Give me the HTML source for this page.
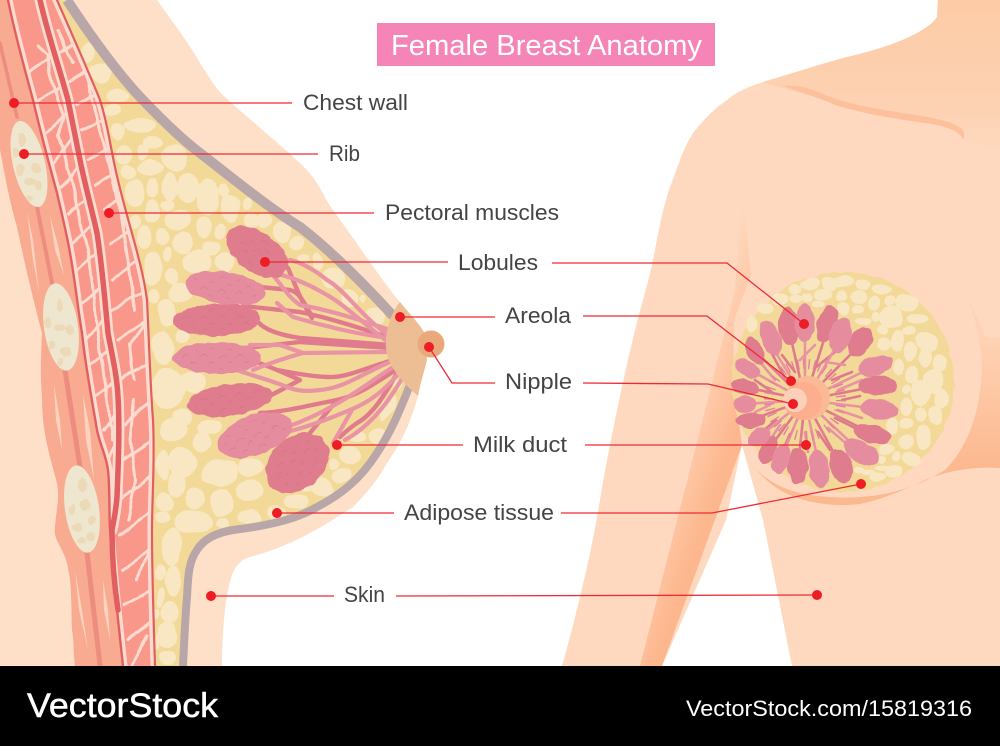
<!DOCTYPE html>
<html><head><meta charset="utf-8"><style>
html,body{margin:0;padding:0;background:#fff}
svg{display:block}
text{font-family:"Liberation Sans",sans-serif}
.l{font-size:22.5px;fill:#444}
</style></head><body>
<svg width="1000" height="746" viewBox="0 0 1000 746" xmlns="http://www.w3.org/2000/svg">
<defs>
<filter id="blob" filterUnits="userSpaceOnUse" x="0" y="0" width="1000" height="700" color-interpolation-filters="sRGB"><feTurbulence type="fractalNoise" baseFrequency=".055" numOctaves="1" seed="4" result="n"/><feComponentTransfer in="n" result="m"><feFuncA type="linear" slope="0" intercept="1"/></feComponentTransfer><feDisplacementMap in="SourceGraphic" in2="m" scale="7" xChannelSelector="R" yChannelSelector="G"/></filter>
<filter id="bump" filterUnits="userSpaceOnUse" x="0" y="0" width="1000" height="700" color-interpolation-filters="sRGB"><feTurbulence type="fractalNoise" baseFrequency=".11" numOctaves="1" seed="7" result="n"/><feComponentTransfer in="n" result="m"><feFuncA type="linear" slope="0" intercept="1"/></feComponentTransfer><feDisplacementMap in="SourceGraphic" in2="m" scale="5" xChannelSelector="R" yChannelSelector="G"/></filter>
<filter id="wob" filterUnits="userSpaceOnUse" x="0" y="0" width="200" height="700" color-interpolation-filters="sRGB"><feTurbulence type="fractalNoise" baseFrequency=".05" numOctaves="1" seed="2" result="n"/><feComponentTransfer in="n" result="m"><feFuncA type="linear" slope="0" intercept="1"/></feComponentTransfer><feDisplacementMap in="SourceGraphic" in2="m" scale="5" xChannelSelector="R" yChannelSelector="G"/></filter>
<pattern id="arc" width="18" height="13" patternUnits="userSpaceOnUse"><path d="M2,7q4,-5 8,-1M11,12q3,-3 5,0" fill="none" stroke="#cf6a7e" stroke-width=".8" opacity=".55"/></pattern>
<linearGradient id="neck" x1="0" y1="0" x2="0" y2="1"><stop offset="0" stop-color="#fdcba6"/><stop offset=".75" stop-color="#fdd2b3"/><stop offset="1" stop-color="#fed9bf"/></linearGradient>
<linearGradient id="arm" gradientUnits="userSpaceOnUse" x1="672" y1="410" x2="735" y2="432"><stop offset="0" stop-color="#fed9bf"/><stop offset="1" stop-color="#fdb78e"/></linearGradient>
<linearGradient id="side" gradientUnits="userSpaceOnUse" x1="0" y1="335" x2="0" y2="470"><stop offset="0" stop-color="#fed3b5"/><stop offset="1" stop-color="#fcb88e"/></linearGradient>
</defs>
<rect width="1000" height="746" fill="#fff"/>

<path fill="#fee0c9" d="M0,0L157,0C175,25 190,45 200,63C210,78 215,88 225,97C250,120 275,140 300,163C320,182 322,195 333,210C355,240 385,285 400,302L418,396C410,425 400,445 387,463C378,480 365,495 353,507C325,525 295,545 250,557C238,560 232,570 228,590C224,610 222,640 222,666L0,666Z"/>

<path fill="#fa978b" d="M8,0L33,100L57,193L80,333L97,430L108,470L123,666L160,666L160,330L100,50L60,0Z"/>
<g fill="none" stroke="#fddcd0" stroke-linecap="round" stroke-linejoin="round">
<path stroke-width="9" d="M8,0C15,35 25,70 33,100C40,130 48,160 57,193C62,215 67,235 70,253C75,280 78,310 82,333C86,370 92,400 97,430C100,445 106,455 108,470C110,490 109,510 110,530C113,575 118,620 123,666"/>
<path stroke-width="11" d="M40,0C48,35 60,70 68,100C72,120 76,140 80,160C85,185 92,210 97,233C102,265 105,300 108,333C112,355 117,375 118,397C120,430 118,470 117,497C116,510 114,520 112,530"/>
<path stroke-width="9" d="M57,0C70,30 88,70 100,100C108,125 110,145 115,167C125,215 142,260 147,300C149,340 150,380 153,420C155,460 152,500 152,530C152,580 154,630 155,666"/>
<g stroke-width="3" filter="url(#wob)">
<path d="M37,45L47,55L50,75L58,100L64,118L58,135L66,160L74,190L80,222L88,250L93,290L97,330L103,370L108,405L112,440"/>
<path d="M30,72L50,58M36,102L64,85M44,135L68,112M52,165L72,138M60,188L82,165M68,215L92,195M70,245L96,222M76,272L100,250M80,305L104,285M86,338L108,315M90,365L112,348M96,395L116,378M103,430L118,410M108,460L118,440"/>
<path d="M58,30L65,48L74,62M62,52L78,40M70,82L90,68M76,105L100,92L106,130M82,130L108,118M88,160L116,145M95,185L120,170M104,210L128,190L132,225M110,245L135,225M112,280L142,255M112,310L146,290M118,340L148,320L130,345L134,380M120,380L150,362M125,425L150,400M122,460L152,440M120,500L150,478M120,535L152,510M122,570L152,548L136,580M124,605L152,590M128,640L154,618M132,666L146,635"/>
<path d="M80,50L90,90L100,130L112,175L122,220L130,270L135,310"/>
<path d="M134,400L130,440L135,480L128,520"/>
</g></g>

<path fill="#f9ab91" d="M0,0L8,0C15,35 25,70 33,100C40,130 48,160 57,193C62,215 67,235 70,253C75,280 78,310 82,333C86,370 92,400 97,430C100,445 106,455 108,470C110,490 109,510 110,530C113,575 118,620 123,666L75,666C73,650 74,640 72,630C71,600 72,585 67,563C62,545 53,540 55,527C56,510 60,500 57,483C48,450 42,430 42,397C40,375 41,355 42,333C32,295 25,265 17,227C9,200 5,175 0,150Z"/>
<g fill="none" stroke="#ec8d80" stroke-linecap="round">
<path stroke-width="3.5" d="M0,43L17,117"/><path stroke-width="4" d="M37,207L52,283"/><path stroke-width="5" d="M65,370L80,467"/><path stroke-width="5" d="M87,553L100,665"/>
</g>
<g fill="#fdd3c0">
<path d="M27,212L33,240L39,292L33,260Z"/><path d="M50,216L58,245L64,275L55,250Z"/><path d="M54,385L60,420L62,450L56,420Z"/><path d="M83,395L90,430L94,480L86,440Z"/><path d="M75,570L82,610L88,650L79,610Z"/><path d="M103,580L108,610L110,640L104,610Z"/>
</g>

<g fill="#efe6cf">
<ellipse cx="29" cy="164" rx="16" ry="44" transform="rotate(-13 29 164)"/>
<ellipse cx="61" cy="327" rx="17" ry="44" transform="rotate(-8 61 327)"/>
<ellipse cx="82" cy="509" rx="17" ry="44" transform="rotate(-8 82 509)"/>
</g>
<g fill="#ecd9b7" filter="url(#bump)">
<ellipse cx="22" cy="140" rx="4" ry="7"/><ellipse cx="16" cy="152" rx="3" ry="5"/><ellipse cx="36" cy="168" rx="5" ry="5"/><ellipse cx="20" cy="170" rx="4" ry="6"/><ellipse cx="30" cy="182" rx="6" ry="4"/><ellipse cx="38" cy="185" rx="4" ry="5"/><ellipse cx="30" cy="198" rx="4" ry="3"/>
<ellipse cx="60" cy="305" rx="3" ry="6"/><ellipse cx="48" cy="322" rx="3" ry="6"/><ellipse cx="60" cy="328" rx="6" ry="4"/><ellipse cx="70" cy="330" rx="4" ry="5"/><ellipse cx="52" cy="345" rx="4" ry="5"/><ellipse cx="66" cy="352" rx="6" ry="4"/><ellipse cx="60" cy="362" rx="3" ry="4"/>
<ellipse cx="82" cy="485" rx="4" ry="7"/><ellipse cx="72" cy="510" rx="3" ry="6"/><ellipse cx="85" cy="505" rx="6" ry="5"/><ellipse cx="92" cy="520" rx="4" ry="5"/><ellipse cx="77" cy="527" rx="5" ry="4"/><ellipse cx="91" cy="537" rx="4" ry="4"/><ellipse cx="82" cy="540" rx="4" ry="3"/>
</g>

<path fill="#f3d998" d="M57,0C70,30 88,70 100,100C108,125 110,145 115,167C125,215 142,260 147,300C149,340 150,380 153,420C155,460 152,500 152,530C152,580 154,630 155,666L183,666C184,645 185,620 187,597C188,580 188,562 197,550C203,540 215,533 233,530C265,526 295,520 317,507C340,495 360,480 377,453C392,430 400,410 410,385L393,316C365,285 330,250 300,227C265,205 235,180 200,153C180,138 160,118 140,97C115,70 90,35 67,0Z"/>
<g fill="#f8e7c2" filter="url(#blob)">
<ellipse cx="88" cy="52" rx="6" ry="10"/><ellipse cx="100" cy="73" rx="12" ry="10"/><ellipse cx="117" cy="97" rx="12" ry="7"/><ellipse cx="112" cy="110" rx="8" ry="5"/><ellipse cx="140" cy="125" rx="16" ry="8"/><ellipse cx="118" cy="131" rx="7" ry="9"/><ellipse cx="153" cy="143" rx="10" ry="7"/><ellipse cx="123" cy="155" rx="8" ry="10"/><ellipse cx="142" cy="152" rx="6" ry="8"/><ellipse cx="175" cy="158" rx="13" ry="14"/><ellipse cx="150" cy="168" rx="13" ry="8"/><ellipse cx="128" cy="172" rx="8" ry="7"/><ellipse cx="170" cy="187" rx="8" ry="14"/><ellipse cx="153" cy="188" rx="6" ry="10"/><ellipse cx="188" cy="188" rx="11" ry="15"/><ellipse cx="135" cy="193" rx="10" ry="14"/><ellipse cx="208" cy="197" rx="11" ry="18"/><ellipse cx="224" cy="190" rx="6" ry="7"/><ellipse cx="230" cy="208" rx="10" ry="14"/><ellipse cx="247" cy="205" rx="5" ry="7"/><ellipse cx="252" cy="220" rx="8" ry="6"/><ellipse cx="265" cy="220" rx="7" ry="8"/><ellipse cx="152" cy="212" rx="8" ry="12"/><ellipse cx="168" cy="205" rx="7" ry="5"/><ellipse cx="178" cy="220" rx="13" ry="10"/><ellipse cx="204" cy="227" rx="8" ry="11"/><ellipse cx="220" cy="232" rx="5" ry="8"/><ellipse cx="225" cy="262" rx="10" ry="9"/><ellipse cx="211" cy="248" rx="9" ry="7"/><ellipse cx="197" cy="262" rx="15" ry="12"/><ellipse cx="182" cy="243" rx="10" ry="11"/><ellipse cx="162" cy="237" rx="7" ry="9"/><ellipse cx="168" cy="255" rx="5" ry="7"/><ellipse cx="144" cy="237" rx="7" ry="11"/><ellipse cx="135" cy="222" rx="6" ry="7"/><ellipse cx="153" cy="268" rx="9" ry="17"/><ellipse cx="172" cy="277" rx="7" ry="8"/><ellipse cx="180" cy="293" rx="12" ry="10"/><ellipse cx="155" cy="297" rx="6" ry="8"/><ellipse cx="167" cy="313" rx="9" ry="14"/><ellipse cx="282" cy="232" rx="9" ry="10"/><ellipse cx="297" cy="243" rx="8" ry="6"/><ellipse cx="303" cy="258" rx="6" ry="5"/><ellipse cx="317" cy="262" rx="5" ry="8"/><ellipse cx="333" cy="278" rx="11" ry="12"/><ellipse cx="350" cy="298" rx="9" ry="10"/><ellipse cx="363" cy="300" rx="3" ry="4"/><ellipse cx="375" cy="316" rx="11" ry="9"/>
<ellipse cx="388" cy="407" rx="6" ry="15" transform="rotate(25 388 407)"/><ellipse cx="398" cy="385" rx="5" ry="6"/><ellipse cx="378" cy="435" rx="9" ry="8"/><ellipse cx="358" cy="437" rx="9" ry="6"/><ellipse cx="350" cy="455" rx="11" ry="8"/><ellipse cx="333" cy="463" rx="5" ry="6"/><ellipse cx="343" cy="475" rx="10" ry="8"/><ellipse cx="323" cy="488" rx="11" ry="10"/><ellipse cx="307" cy="488" rx="8" ry="4"/><ellipse cx="297" cy="502" rx="12" ry="7"/>
<ellipse cx="163" cy="348" rx="11" ry="17"/><ellipse cx="183" cy="335" rx="7" ry="8"/><ellipse cx="168" cy="388" rx="17" ry="20"/><ellipse cx="192" cy="382" rx="14" ry="10"/><ellipse cx="182" cy="417" rx="9" ry="8"/><ellipse cx="173" cy="430" rx="14" ry="11"/><ellipse cx="202" cy="442" rx="9" ry="11"/><ellipse cx="210" cy="427" rx="12" ry="8"/><ellipse cx="182" cy="462" rx="14" ry="15"/><ellipse cx="163" cy="465" rx="6" ry="16"/><ellipse cx="177" cy="483" rx="10" ry="13"/><ellipse cx="165" cy="502" rx="9" ry="10"/><ellipse cx="195" cy="498" rx="9" ry="11"/><ellipse cx="220" cy="473" rx="18" ry="14"/><ellipse cx="222" cy="503" rx="12" ry="14"/><ellipse cx="250" cy="490" rx="14" ry="11"/><ellipse cx="250" cy="467" rx="13" ry="9"/><ellipse cx="193" cy="522" rx="20" ry="12"/><ellipse cx="162" cy="518" rx="7" ry="6"/><ellipse cx="223" cy="523" rx="7" ry="5"/><ellipse cx="250" cy="517" rx="12" ry="8"/><ellipse cx="277" cy="513" rx="9" ry="8"/><ellipse cx="172" cy="547" rx="10" ry="20"/><ellipse cx="160" cy="572" rx="6" ry="8"/><ellipse cx="173" cy="582" rx="8" ry="16"/><ellipse cx="160" cy="597" rx="4" ry="10"/><ellipse cx="170" cy="613" rx="9" ry="11"/><ellipse cx="157" cy="613" rx="3" ry="5"/><ellipse cx="167" cy="635" rx="10" ry="13"/><ellipse cx="158" cy="643" rx="3" ry="8"/><ellipse cx="167" cy="658" rx="8" ry="7"/>
</g>

<g fill="none" stroke="#e15f60" stroke-linecap="round">
<path stroke-width="2.4" d="M8,0C15,35 25,70 33,100C40,130 48,160 57,193C62,215 67,235 70,253C75,280 78,310 82,333C86,370 92,400 97,430C100,445 106,455 108,470C110,490 109,510 110,530C113,575 118,620 123,666"/>
<path stroke-width="5.5" d="M40,0C48,35 60,70 68,100C72,120 76,140 80,160C85,185 92,210 97,233C102,265 105,300 108,333C112,355 117,375 118,397C120,430 118,470 117,497C116,510 114,520 112,530C112,560 115,590 118,610"/>
<path stroke-width="2.2" d="M57,0C70,30 88,70 100,100C108,125 110,145 115,167C125,215 142,260 147,300C149,340 150,380 153,420C155,460 152,500 152,530C152,580 154,630 155,666"/>
</g>
<g fill="none" stroke="#b8a6a9">
<path stroke-width="10" d="M67,0C90,35 115,70 140,97C160,118 180,138 200,153C235,180 265,205 300,227C330,250 365,285 393,316"/>
<path stroke-width="8" d="M410,385C400,410 392,430 377,453C360,480 340,495 317,507C295,520 265,526 233,530C215,533 203,540 197,550C188,562 188,580 187,597C185,620 184,645 183,666"/>
</g>

<g fill="none" stroke="#e07b8d" stroke-width="4.4" stroke-linecap="round" stroke-linejoin="round">
<path d="M390,338C360,328 330,318 300,312L243,306"/>
<path d="M288,268C295,285 303,305 312,318"/>
<path d="M260,287L290,290C300,292 305,305 312,316"/>
<path d="M390,345L300,338C280,335 265,330 258,322"/>
<path d="M390,348L300,342L245,348"/>
<path d="M393,360C360,370 345,378 327,377C305,376 290,372 277,370L257,362"/>
<path d="M277,370L300,380L262,400"/>
<path d="M400,367C380,380 360,395 337,400C310,405 285,412 260,413"/>
<path d="M337,400L310,433"/>
<path d="M397,373C385,395 372,415 357,423C350,428 345,432 340,437"/>
</g>
<g fill="none" stroke="#e994a5" stroke-width="4.2" stroke-linecap="round" stroke-linejoin="round">
<path d="M388,342C365,325 345,305 327,295C310,285 290,275 270,273"/>
<path d="M388,335C360,315 345,290 327,280C315,270 300,262 290,260"/>
<path d="M390,330C360,320 330,310 300,305C285,295 280,280 267,270"/>
<path d="M277,303L293,317C320,325 360,335 390,338"/>
<path d="M388,352L303,353C285,358 265,365 253,370"/>
<path d="M303,353L280,345L250,345"/>
<path d="M390,362C365,372 345,388 320,390C305,392 295,390 290,388C270,380 250,375 237,370"/>
<path d="M393,367C365,385 335,410 287,427"/>
<path d="M400,372C385,390 370,402 350,410C335,416 315,425 287,432"/>
<path d="M352,410L333,443"/>
<path d="M404,375C390,400 372,425 345,440"/>
</g>
<g filter="url(#bump)">
<g fill="#df7c8e">
<ellipse cx="257" cy="252" rx="35" ry="20" transform="rotate(35 257 252)"/>
<ellipse cx="217" cy="320" rx="44" ry="16" transform="rotate(-2 217 320)"/>
<ellipse cx="230" cy="400" rx="43" ry="16" transform="rotate(-8 230 400)"/>
<ellipse cx="297" cy="463" rx="35" ry="26" transform="rotate(-40 297 463)"/>
</g>
<g fill="#e58d9f">
<ellipse cx="225" cy="288" rx="41" ry="16" transform="rotate(8 225 288)"/>
<ellipse cx="217" cy="358" rx="44" ry="16"/>
<ellipse cx="255" cy="435" rx="39" ry="20" transform="rotate(-20 255 435)"/>
</g>
<g fill="url(#arc)">
<ellipse cx="257" cy="252" rx="28" ry="14" transform="rotate(35 257 252)"/>
<ellipse cx="217" cy="320" rx="36" ry="11"/><ellipse cx="230" cy="400" rx="36" ry="11" transform="rotate(-8 230 400)"/>
<ellipse cx="297" cy="463" rx="28" ry="20" transform="rotate(-40 297 463)"/>
<ellipse cx="225" cy="288" rx="34" ry="11" transform="rotate(8 225 288)"/><ellipse cx="217" cy="358" rx="36" ry="11"/><ellipse cx="255" cy="435" rx="32" ry="15" transform="rotate(-20 255 435)"/>
</g></g>
<path fill="#edbd94" d="M400,302C408,312 418,322 424,332L427,360C424,372 420,385 418,396C405,385 392,370 388,358C384,345 386,332 390,320C393,312 397,306 400,302Z"/>
<circle cx="431" cy="344" r="13.5" fill="#e9a97b"/>

<path fill="#fed9bf" d="M938,0L937,17C925,35 880,50 843,58C815,66 790,74 763,82C745,88 735,93 727,100C712,110 702,122 693,133C682,150 677,170 670,187C662,210 658,235 653,260C650,275 647,285 643,300C630,345 610,440 600,500C590,560 575,620 562,666L662,666L726,520L742,445L763,520L792,666L1000,666L1000,0Z"/>
<path fill="url(#neck)" d="M938,0L937,17C925,35 880,50 843,58C815,66 790,74 763,82C790,92 830,100 860,108C890,116 930,120 950,128C960,133 964,138 964,140C975,146 990,149 1000,150L1000,0Z"/>
<path fill="#fcc09d" d="M783,86C800,84 815,90 828,96C845,103 880,110 910,114C935,118 958,122 964,132L964,140C958,130 945,126 925,123C895,119 860,113 835,105C820,98 800,92 783,86Z"/>
<path fill="url(#arm)" d="M742,183L751,275L734,320L733,380L742,445L662,666L640,666L700,430L735,290Z"/>
<path fill="url(#side)" d="M968,298C975,312 980,325 985,336C990,338 995,338 1000,338L1000,468C970,466 945,472 925,480C905,490 880,500 860,504C825,508 790,500 770,483C758,473 750,462 745,455C760,478 780,490 810,495C860,502 905,495 945,470C970,445 982,405 982,362C980,340 975,318 968,298Z"/>

<ellipse cx="843" cy="382" rx="111" ry="110" fill="#f3d998" filter="url(#bump)"/>
<g fill="#f8e7c2" filter="url(#blob)">
<ellipse cx="810" cy="284" rx="10" ry="6"/><ellipse cx="830" cy="284" rx="8" ry="7"/><ellipse cx="843" cy="282" rx="11" ry="6"/><ellipse cx="863" cy="285" rx="8" ry="5"/><ellipse cx="882" cy="289" rx="10" ry="5"/><ellipse cx="907" cy="303" rx="11" ry="9"/><ellipse cx="890" cy="301" rx="6" ry="5"/><ellipse cx="874" cy="303" rx="6" ry="8"/><ellipse cx="859" cy="297" rx="8" ry="7"/><ellipse cx="842" cy="296" rx="6" ry="5"/><ellipse cx="823" cy="294" rx="9" ry="5"/><ellipse cx="807" cy="297" rx="6" ry="4"/><ellipse cx="795" cy="289" rx="6" ry="6"/><ellipse cx="796" cy="299" rx="6" ry="4"/><ellipse cx="819" cy="303" rx="7" ry="4"/><ellipse cx="843" cy="309" rx="6" ry="7"/><ellipse cx="858" cy="309" rx="6" ry="4"/><ellipse cx="780" cy="300" rx="9" ry="6"/><ellipse cx="765" cy="308" rx="7" ry="6"/><ellipse cx="753" cy="324" rx="6" ry="8"/><ellipse cx="863" cy="321" rx="7" ry="4"/><ellipse cx="875" cy="317" rx="5" ry="5"/><ellipse cx="891" cy="317" rx="12" ry="11"/><ellipse cx="917" cy="319" rx="10" ry="5"/><ellipse cx="883" cy="330" rx="5" ry="5"/><ellipse cx="909" cy="331" rx="8" ry="5"/><ellipse cx="927" cy="342" rx="12" ry="11"/><ellipse cx="897" cy="341" rx="7" ry="11"/><ellipse cx="884" cy="345" rx="7" ry="7"/><ellipse cx="910" cy="352" rx="6" ry="10"/><ellipse cx="925" cy="358" rx="7" ry="9"/><ellipse cx="940" cy="363" rx="7" ry="10"/><ellipse cx="898" cy="367" rx="5" ry="8"/><ellipse cx="912" cy="375" rx="7" ry="9"/><ellipse cx="933" cy="381" rx="10" ry="12"/><ellipse cx="920" cy="393" rx="10" ry="13"/><ellipse cx="942" cy="398" rx="8" ry="11"/><ellipse cx="906" cy="390" rx="4" ry="5"/><ellipse cx="907" cy="407" rx="5" ry="9"/><ellipse cx="921" cy="414" rx="6" ry="7"/><ellipse cx="935" cy="415" rx="7" ry="10"/><ellipse cx="893" cy="426" rx="7" ry="8"/><ellipse cx="907" cy="423" rx="6" ry="5"/><ellipse cx="923" cy="437" rx="8" ry="12"/><ellipse cx="906" cy="442" rx="7" ry="8"/><ellipse cx="887" cy="449" rx="7" ry="5"/><ellipse cx="882" cy="458" rx="5" ry="4"/><ellipse cx="896" cy="457" rx="4" ry="5"/><ellipse cx="911" cy="459" rx="10" ry="7"/><ellipse cx="893" cy="472" rx="8" ry="7"/><ellipse cx="882" cy="467" rx="8" ry="3"/><ellipse cx="878" cy="477" rx="8" ry="5"/><ellipse cx="869" cy="472" rx="6" ry="3"/><ellipse cx="860" cy="470" rx="6" ry="3"/>
</g>

<g fill="none" stroke-linecap="round" stroke-width="2.6">
<g stroke="#de7a8b">
<path d="M805,400L789,330M805,400L827,330M805,400L860,345M805,400L878,386M805,400L873,434M805,400L841,466M805,400L798,466M805,400L768,450M805,400L751,420M805,400L745,387M805,400L755,351"/>
<path d="M795,372L782,355M815,368L835,352M832,380L852,372M842,400L860,396M835,418L855,428M818,432L830,450M790,434L782,452M776,420L762,432M772,392L755,380M785,378L770,350"/>
</g>
<g stroke="#e893a3">
<path d="M805,400L805,330M805,400L840,340M805,400L875,366M805,400L879,409M805,400L861,452M805,400L819,466M805,400L781,459M805,400L759,437M805,400L745,404M805,400L748,369M805,400L771,345"/>
<path d="M800,360L815,345M825,362L845,365M838,390L862,380M838,410L862,418M828,428L848,445M805,432L808,452M780,425L770,440M770,405L755,412M775,380L760,362"/>
</g>
</g>
<circle cx="805" cy="400" r="36" fill="none" stroke="#e5809a" stroke-width="10" stroke-dasharray="1.4 4"/>
<g filter="url(#bump)">
<g fill="#df7c8e">
<ellipse cx="789" cy="326" rx="10" ry="19" transform="rotate(-5 789 326)"/><ellipse cx="827" cy="324" rx="10" ry="19" transform="rotate(15 827 324)"/><ellipse cx="860" cy="342" rx="11" ry="16" transform="rotate(30 860 342)"/><ellipse cx="878" cy="386" rx="19" ry="10"/><ellipse cx="873" cy="434" rx="19" ry="9" transform="rotate(15 873 434)"/><ellipse cx="841" cy="466" rx="11" ry="18" transform="rotate(-20 841 466)"/><ellipse cx="798" cy="466" rx="10" ry="18"/><ellipse cx="768" cy="450" rx="8" ry="15" transform="rotate(25 768 450)"/><ellipse cx="751" cy="420" rx="15" ry="8" transform="rotate(-3 751 420)"/><ellipse cx="745" cy="387" rx="14" ry="8" transform="rotate(10 745 387)"/><ellipse cx="755" cy="351" rx="8" ry="15" transform="rotate(-30 755 351)"/>
</g>
<g fill="#e58d9f">
<ellipse cx="805" cy="323" rx="10" ry="19"/><ellipse cx="840" cy="335" rx="11" ry="18" transform="rotate(15 840 335)"/><ellipse cx="875" cy="366" rx="18" ry="10" transform="rotate(-15 875 366)"/><ellipse cx="879" cy="409" rx="19" ry="10" transform="rotate(5 879 409)"/><ellipse cx="861" cy="452" rx="19" ry="11" transform="rotate(30 861 452)"/><ellipse cx="819" cy="469" rx="10" ry="19" transform="rotate(-8 819 469)"/><ellipse cx="781" cy="459" rx="9" ry="15" transform="rotate(15 781 459)"/><ellipse cx="759" cy="437" rx="12" ry="9" transform="rotate(-25 759 437)"/><ellipse cx="745" cy="404" rx="12" ry="8"/><ellipse cx="748" cy="369" rx="14" ry="8" transform="rotate(30 748 369)"/><ellipse cx="771" cy="338" rx="10" ry="18" transform="rotate(-20 771 338)"/>
</g></g>
<circle cx="808" cy="398" r="22" fill="#fbba96"/>
<circle cx="803" cy="401" r="19" fill="#fcae8e"/>
<circle cx="795" cy="400" r="12" fill="#fdd0ba"/>

<rect x="377" y="23" width="338" height="43" fill="#f585b7"/>
<text x="391" y="55" font-size="29" fill="#fff" textLength="311" lengthAdjust="spacingAndGlyphs">Female Breast Anatomy</text>

<g fill="none" stroke="#ee2a35" stroke-width="1.3">
<path d="M14,103H292M24,154H318M109,213H374M265,262H448M400,317H495M429,347L452,383H495M337,445H463M277,513H394M561,513H712L861,484M211,596H334M396,596L817,595M552,263H727L804,324M583,316H707L791,381M583,383L708,384L793,404M585,445H806"/>
</g>
<g fill="#ee1c25">
<circle cx="14" cy="103" r="5"/><circle cx="24" cy="154" r="5"/><circle cx="109" cy="213" r="5"/><circle cx="265" cy="262" r="5"/><circle cx="400" cy="317" r="5"/><circle cx="429" cy="347" r="5"/><circle cx="337" cy="445" r="5"/><circle cx="277" cy="513" r="5"/><circle cx="211" cy="596" r="5"/><circle cx="804" cy="324" r="5"/><circle cx="791" cy="381" r="5"/><circle cx="793" cy="404" r="5"/><circle cx="806" cy="445" r="5"/><circle cx="861" cy="484" r="5"/><circle cx="817" cy="595" r="5"/>
</g>

<text class="l" x="303" y="110" textLength="105" lengthAdjust="spacingAndGlyphs">Chest wall</text>
<text class="l" x="329" y="161" textLength="31" lengthAdjust="spacingAndGlyphs">Rib</text>
<text class="l" x="385" y="220" textLength="174" lengthAdjust="spacingAndGlyphs">Pectoral muscles</text>
<text class="l" x="458" y="270" textLength="80" lengthAdjust="spacingAndGlyphs">Lobules</text>
<text class="l" x="505" y="323" textLength="66" lengthAdjust="spacingAndGlyphs">Areola</text>
<text class="l" x="505" y="389" textLength="67" lengthAdjust="spacingAndGlyphs">Nipple</text>
<text class="l" x="473" y="452" textLength="94" lengthAdjust="spacingAndGlyphs">Milk duct</text>
<text class="l" x="404" y="520" textLength="150" lengthAdjust="spacingAndGlyphs">Adipose tissue</text>
<text class="l" x="344" y="602" textLength="41" lengthAdjust="spacingAndGlyphs">Skin</text>

<rect x="0" y="666" width="1000" height="80" fill="#000"/>
<text x="27" y="717" font-size="34" fill="#fff" stroke="#fff" stroke-width=".5" textLength="191" lengthAdjust="spacingAndGlyphs">VectorStock</text>
<text x="686" y="716" font-size="22.5" fill="#fff" textLength="286" lengthAdjust="spacingAndGlyphs">VectorStock.com/15819316</text>
</svg>
</body></html>
